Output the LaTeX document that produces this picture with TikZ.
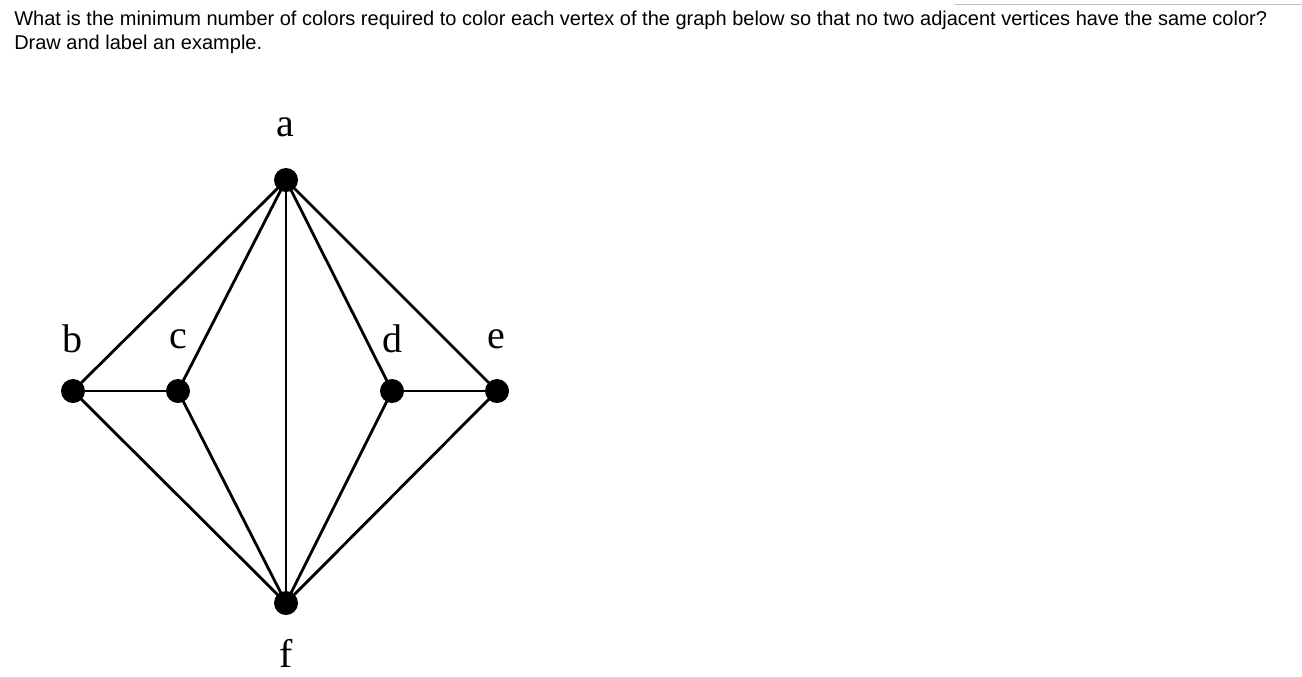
\documentclass[tikz,border=0pt]{standalone}
\usepackage{fontspec}
\setmainfont{Liberation Sans}
\newfontfamily\lblfont{Liberation Serif}
\begin{document}
\begin{tikzpicture}[x=0.75pt,y=-0.75pt,
  vtx/.style={circle,fill=black,inner sep=0pt,minimum size=18pt},
  lbl/.style={font=\lblfont\fontsize{30}{32}\selectfont,inner sep=0pt},
  edge/.style={line width=2.1pt}]
\useasboundingbox (0,0) rectangle (1302,676);
\fill[white] (0,0) rectangle (1302,676);
\draw[gray!50,line width=0.75pt] (955,4) -- (1302,4);
\node[anchor=base west,inner sep=0pt,font=\fontsize{15}{17}\selectfont] (q1) at (14,25) {What is the minimum number of colors required to color each vertex of the graph below so that no two adjacent vertices have the same color?};
\node[anchor=base west,inner sep=0pt,font=\fontsize{15}{17}\selectfont] (q2) at (14,49) {Draw and label an example.};
\node[vtx] (a) at (286,180) {};
\node[vtx] (b) at (73,391) {};
\node[vtx] (c) at (178,391) {};
\node[vtx] (d) at (392,391) {};
\node[vtx] (e) at (497,391) {};
\node[vtx] (f) at (286,603) {};
\foreach \u/\v in {a/b,a/c,a/f,a/d,a/e,b/c,d/e,b/f,c/f,d/f,e/f}
  \draw[edge] (\u.center) -- (\v.center);
\node[lbl] (la) at (285,127) {a};
\node[lbl] (lb) at (72,339) {b};
\node[lbl] (lc) at (178,339) {c};
\node[lbl] (ld) at (392,339) {d};
\node[lbl] (le) at (496,339) {e};
\node[lbl] (lf) at (286,653) {f};
\end{tikzpicture}
\end{document}
